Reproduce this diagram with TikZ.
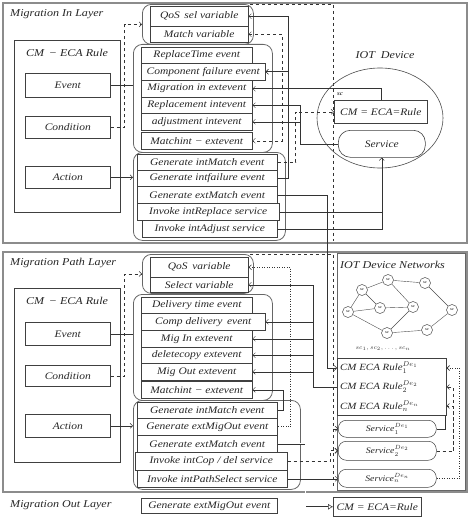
\documentclass[tikz,border=0pt]{standalone}
\usepackage{amsmath}
\usepackage{fontspec}
\setmainfont{Liberation Serif}[FakeStretch=1.15]
\usetikzlibrary{arrows.meta}

\tikzset{
  row/.style={draw=black!75, line width=0.5pt, anchor=north west, inner sep=0pt, font=\itshape\fontsize{10}{10}\selectfont, text=black!85},
  servrow/.style={row, rounded corners=8pt, minimum width=98pt, font=\itshape\fontsize{8.5}{9}\selectfont},
  box/.style={draw=black!75, line width=0.6pt, anchor=north west, inner sep=0pt, font=\itshape\fontsize{10}{11}\selectfont, text=black!85},
  cont/.style={draw=black!60, line width=0.8pt, rounded corners=9pt, anchor=north west, inner sep=0pt},
  panel/.style={draw=black!45, line width=1.3pt},
  wire/.style={draw=black!80, line width=0.5pt},
  title/.style={anchor=west, inner sep=0pt, font=\itshape\fontsize{10.5}{12}\selectfont, text=black!85},
  rulerow/.style={anchor=west, inner xsep=3pt, inner ysep=0pt, font=\itshape\fontsize{9.5}{10}\selectfont, text=black!85},
  net/.style={circle, draw=black!70, line width=0.5pt, minimum size=11pt, inner sep=0pt, font=\itshape\fontsize{4}{4}\selectfont},
  >={Straight Barb[length=2.5pt,width=5pt]}
}

\begin{document}
\begin{tikzpicture}[x=1pt,y=1pt,yscale=-1]
\useasboundingbox (0,0) rectangle (474,524);

%%%%%%%% Migration In Layer
\draw [panel] (3,3) rectangle (467,243);
% Text Node
\draw (10,14) node [title] (tIn) {Migration In Layer};

%Shape: Rectangle (rule of the layer)
\draw (14,40) node [box, minimum width=106pt, minimum height=172pt] (ecaA) {};
\draw (67,53) node [title, anchor=center] (ecaAlbl) {CM \,− ECA Rule};
\draw (25,73) node [box, minimum width=85pt, minimum height=24pt] (evA) {Event};
\draw (25,116) node [box, minimum width=85pt, minimum height=22pt] (cnA) {Condition};
\draw (25,166) node [box, minimum width=85pt, minimum height=22pt] (acA) {Action};

%Shape: Rounded groups
\draw (142,4) node [cont, minimum width=111pt, minimum height=40pt] (cvA) {};
\draw (133,44) node [cont, minimum width=139pt, minimum height=108pt] (cEA) {};
\draw (133,152) node [cont, minimum width=152pt, minimum height=88pt] (cAA) {};

% variables
\draw (150,6) node [row, minimum width=98pt, minimum height=20pt] (vA1) {QoS \,sel variable};
\draw (150,26) node [row, minimum width=98pt, minimum height=16pt] (vA2) {Match variable};
% events
\draw (141,47) node [row, minimum width=111pt, minimum height=16pt] (eA1) {ReplaceTime event};
\draw (141,63) node [row, minimum width=124pt, minimum height=17pt] (eA2) {Component failure event};
\draw (141,80) node [row, minimum width=111pt, minimum height=17pt] (eA3) {Migration in extevent};
\draw (141,97) node [row, minimum width=111pt, minimum height=16pt] (eA4) {Replacement intevent};
\draw (141,113) node [row, minimum width=111pt, minimum height=17pt] (eA5) {adjustment intevent};
\draw (141,132) node [row, minimum width=111pt, minimum height=17pt] (eA6) {Matchint − extevent};
% actions
\draw (137,154) node [row, minimum width=140pt, minimum height=16pt] (aA1) {Generate intMatch event};
\draw (137,170) node [row, minimum width=140pt, minimum height=16pt] (aA2) {Generate intfailure event};
\draw (137,186) node [row, minimum width=140pt, minimum height=17pt] (aA3) {Generate extMatch event};
\draw (137,203) node [row, minimum width=142pt, minimum height=17pt] (aA4) {Invoke intReplace service};
\draw (142,220) node [row, minimum width=135pt, minimum height=17pt] (aA5) {Invoke intAdjust service};

% IOT device
\draw [dashed, wire, line width=0.8pt] ([xshift=-4pt]cvA.north east) -| (333,241);
\draw (385,55) node [title, anchor=center] (tDev) {IOT \;Device};
\draw [draw=black!70, line width=0.6pt] (380,118) ellipse [x radius=63, y radius=50];
\draw (334,100) node [box, minimum width=93pt, minimum height=23pt] (ruleA) {CM = ECA=Rule};
\draw (340,94) node [inner sep=0pt, font=\itshape\fontsize{6}{6}\selectfont] (scA) {sc};
\draw (338,130) node [box, rounded corners=12pt, minimum width=87pt, minimum height=27pt] (servA) {Service};

% connectors, top layer
\draw [wire] (evA.east) -- (evA.east -| cEA.west);
\draw [wire, dashed, ->] (cnA.east) -- ++(14,0) |- (cvA.west);
\draw [wire, ->] (acA.east) -- (acA.east -| cAA.west);
\draw [wire, <->] (vA1.east) -- ++(40,0) |- (eA2.east);
\draw [wire, dashed, <->] (vA2.east) -- ++(34,0) |- (eA6.east);
\draw [wire, ->] (ruleA.north) |- (eA3.east);
\draw [wire, ->] (servA.west) -- ++(-38,0) |- (eA4.east);
\draw [wire, ->] ([xshift=-38pt]servA.west) |- (eA5.east);
\draw [wire, dashed, ->] (aA1.east) -- ++(18,0) |- (ruleA.west);
\draw [wire, ->] (aA2.east) -- ++(11,0) |- (eA2.east);
\draw [wire, ->] (aA4.east) -| (servA.south);
\draw [wire] (aA5.east) -| (servA.south);

%%%%%%%% Migration Path Layer
\draw [panel] (3,252) rectangle (467,492);
% Text Node
\draw (10,263) node [title] (tPath) {Migration Path Layer};

\draw (14,288) node [box, minimum width=106pt, minimum height=174pt] (ecaB) {};
\draw (67,301) node [title, anchor=center] (ecaBlbl) {CM \,− ECA Rule};
\draw (25,322) node [box, minimum width=85pt, minimum height=23pt] (evB) {Event};
\draw (25,365) node [box, minimum width=85pt, minimum height=21pt] (cnB) {Condition};
\draw (25,414) node [box, minimum width=85pt, minimum height=23pt] (acB) {Action};

\draw (142,254) node [cont, minimum width=111pt, minimum height=39pt] (cvB) {};
\draw (133,294) node [cont, minimum width=139pt, minimum height=106pt] (cEB) {};
\draw (133,400) node [cont, minimum width=167pt, minimum height=89pt] (cAB) {};

\draw (150,257) node [row, minimum width=98pt, minimum height=20pt] (vB1) {QoS \,variable};
\draw (150,277) node [row, minimum width=98pt, minimum height=15pt] (vB2) {Select variable};
\draw (141,297) node [row, minimum width=111pt, minimum height=16pt] (eB1) {Delivery time event};
\draw (141,313) node [row, minimum width=124pt, minimum height=17pt] (eB2) {Comp delivery \,event};
\draw (141,330) node [row, minimum width=111pt, minimum height=17pt] (eB3) {Mig In extevent};
\draw (141,347) node [row, minimum width=111pt, minimum height=16pt] (eB4) {deletecopy extevent};
\draw (141,363) node [row, minimum width=111pt, minimum height=17pt] (eB5) {Mig Out extevent};
\draw (141,381) node [row, minimum width=111pt, minimum height=17pt] (eB6) {Matchint − extevent};
\draw (137,402) node [row, minimum width=140pt, minimum height=16pt] (aB1) {Generate intMatch event};
\draw (137,418) node [row, minimum width=140pt, minimum height=17pt] (aB2) {Generate extMigOut event};
\draw (137,435) node [row, minimum width=140pt, minimum height=17pt] (aB3) {Generate extMatch event};
\draw (135,452) node [row, minimum width=152pt, minimum height=18pt] (aB4) {Invoke intCop / del service};
\draw (137,470) node [row, minimum width=150pt, minimum height=17pt] (aB5) {Invoke intPathSelect service};

% IOT device networks
\draw [draw=black!60, line width=0.8pt] (337,253) rectangle (465,490);
\draw [dashed, wire, line width=0.8pt] ([xshift=-4pt]cvB.north east) -| (333,488);
\draw (340,265) node [title] (tNet) {IOT Device Networks};
\draw (388,280) node [net] (n1) {sc};
\draw (425,283) node [net] (n2) {sc};
\draw (362,290) node [net] (n3) {sc};
\draw (348,312) node [net] (n4) {sc};
\draw (380,308) node [net] (n5) {sc};
\draw (413,307) node [net] (n6) {sc};
\draw (452,310) node [net] (n7) {sc};
\draw (387,333) node [net] (n8) {sc};
\draw (427,330) node [net] (n9) {sc};
\foreach \a/\b in {n1/n2, n1/n3, n1/n6, n2/n7, n3/n4, n3/n5, n4/n5, n5/n6, n4/n8, n6/n8, n8/n9, n7/n9}
  \draw [draw=black!70, line width=0.4pt] (\a) -- (\b);
\draw (383,349) node [inner sep=0pt, font=\fontsize{6.5}{7}\selectfont, text=black!80] (scList) {$sc_1, sc_2, \ldots, sc_n$};

\draw (337,358) node [box, minimum width=109pt, minimum height=57pt] (ecaBox) {};
\draw (337,368) node [rulerow] (r1) {CM ECA Rule$_1^{De_1}$};
\draw (337,387) node [rulerow] (r2) {CM ECA Rule$_2^{De_2}$};
\draw (337,406) node [rulerow] (r3) {CM ECA Rule$_n^{De_n}$};
\draw (338,420) node [servrow, minimum height=17pt] (s1) {Service$_1^{De_1}$};
\draw (338,441) node [servrow, minimum height=19pt] (s2) {Service$_2^{De_2}$};
\draw (338,469) node [servrow, minimum height=18pt] (s3) {Service$_n^{De_n}$};

%%%%%%%% Migration Out Layer
\draw (10,505) node [title] (tOut) {Migration Out Layer};
\draw (141,498) node [row, minimum width=136pt, minimum height=15pt] (mo) {Generate extMigOut event};
\draw (333,497) node [box, minimum width=88pt, minimum height=19pt] (ruleOut) {CM = ECA=Rule};

% connectors, path layer
\coordinate (busB) at (313,300);
\coordinate (dashB) at (333,300);
\draw [wire] (evB.east) -- (evB.east -| cEB.west);
\draw [wire, dashed, ->] (cnB.east) -- ++(14,0) |- (cvB.west);
\draw [wire, ->] (acB.east) -- (acB.east -| cAB.west);
\draw [wire, dotted, line width=0.7pt, <-] (vB1.east) -- ++(42,0) |- (aB2.east);
\draw [wire, <-] (vB2.east) -| (busB |- r2.west) -- (r2.west);
\foreach \e in {eB2, eB3, eB4, eB5}
  \draw [wire, ->] (busB |- \e.east) -- (\e.east);
\draw [wire, <-] (eB6.east) -- ++(31,0) |- (aB1.east);
\draw [wire, ->] (aA3.east) -- ++(50,0) |- (r1.west);
\draw [wire, double, -{Latex[open,length=5pt,width=6pt]}] (aB3.east) -- ++(28,0) |- (ruleOut.west);
\draw [wire, thick, dashed, ->] (aB4.east) -- ++(43,0) |- (s2.west);
\draw [wire, ->] (aB5.east) -- (s3.west |- aB5.east);
\draw [wire, ->] (dashB |- s1.west) -- (s1.west);
\draw [wire] (s1.east) -| ([xshift=-1pt]ecaBox.south east);
\draw [wire, dashed, ->] (s2.east) -- ++(17,0) |- (r3.east -| ecaBox.east);
\draw [wire, dashed, ->] ([xshift=17pt]s2.east) |- (r2.east -| ecaBox.east);
\draw [wire, dotted, line width=0.7pt, ->] (s3.east) -- ++(23,0) |- (r1.east -| ecaBox.east);

\end{tikzpicture}
\end{document}
